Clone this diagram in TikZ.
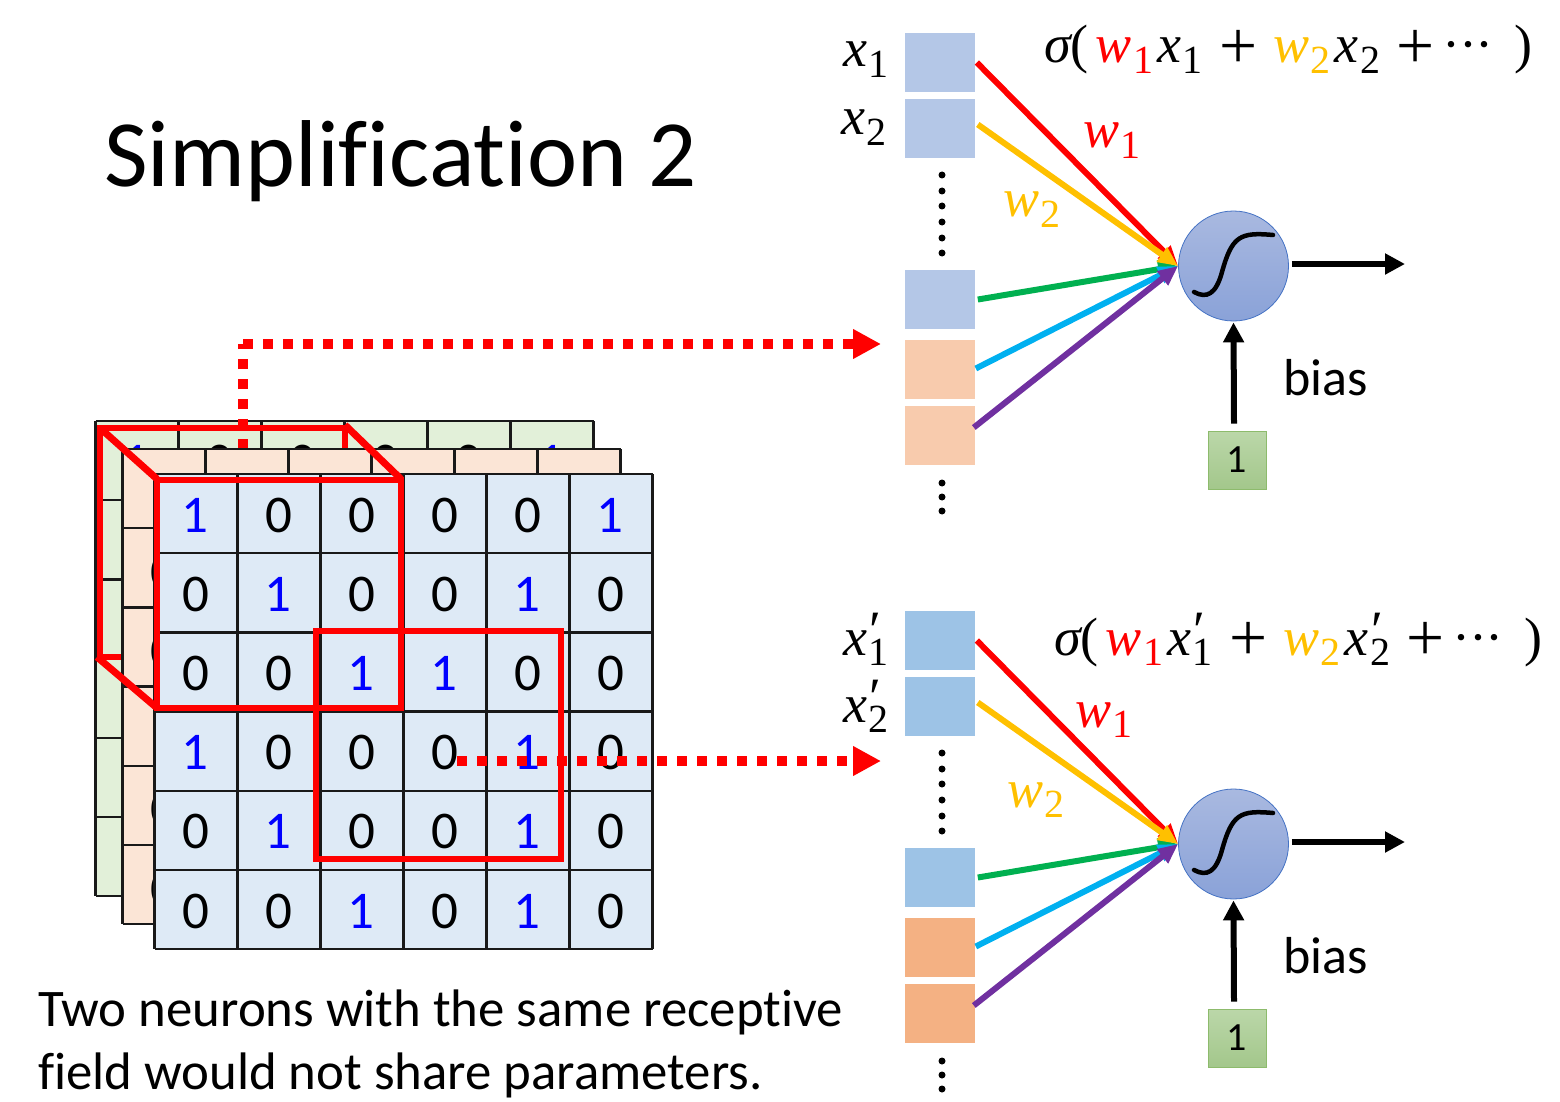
\documentclass[tikz,border=0pt]{standalone}
\usepackage{fontspec}
\setmainfont{Carlito}[Ligatures=NoCommon]
\newfontfamily\mfr{Liberation Serif}
\newfontfamily\mfs{Liberation Serif}[Scale=0.74]
\newfontfamily\mfp{Liberation Serif}[Scale=1.25]
\usetikzlibrary{arrows.meta,calc}
\definecolor{cfront}{HTML}{DEEAF6}
\definecolor{corange}{HTML}{FBE5D6}
\definecolor{cgreen}{HTML}{E2F0D9}
\definecolor{cblue}{HTML}{0000FF}
\definecolor{cw}{HTML}{FFC000}
\definecolor{cg}{HTML}{00B050}
\definecolor{cc}{HTML}{00B0F0}
\definecolor{cp}{HTML}{7030A0}
\definecolor{boxA}{HTML}{B4C7E7}
\definecolor{boxB}{HTML}{F8CBAD}
\definecolor{boxC}{HTML}{9DC3E6}
\definecolor{boxD}{HTML}{F4B183}
\definecolor{ntop}{HTML}{A9B9E0}
\definecolor{nbot}{HTML}{8AA2D8}
\definecolor{nline}{HTML}{4472C4}
\definecolor{onetop}{HTML}{BBD7A9}
\definecolor{onebot}{HTML}{A3C78B}
\definecolor{oneline}{HTML}{8DBB6C}
\newcommand{\fs}[1]{\fontsize{#1}{#1}\selectfont}
\newcommand{\vv}[2]{{\mfr\itshape #1}\kern.03em\raisebox{-.2em}{\mfs #2}}
\newcommand{\vp}[2]{{\mfr\itshape #1}\kern.03em\rlap{\raisebox{.12em}{\mfr\kern.02em ′}}\raisebox{-.2em}{\mfs #2}}
\newcommand{\sumdots}{{\mfr\kern.05em ·\kern-.03em·\kern-.03em·}}
\newcommand{\bigplus}{\raisebox{-.1em}{\mfp +}}
\tikzset{
  cellline/.style={draw=black!90,line width=2.5pt},
  digit/.style={font=\fs{53},inner sep=0pt,anchor=center},
  redbox/.style={draw=red,line width=6.5pt,line join=miter,line cap=butt},
  dotline/.style={draw=red,line width=10pt,dash pattern=on 10pt off 10pt,-{Triangle[length=28pt,width=28pt]}},
  inbox/.style={minimum width=71pt,minimum height=60pt,inner sep=0pt,draw=white,line width=0.6pt},
  wire/.style={line width=6pt,-{Triangle[length=20pt,width=17pt]}},
  blackarrow/.style={draw=black,line width=6pt,-{Triangle[length=20pt,width=20pt]}},
  mathlabel/.style={font=\fs{54},inner sep=0pt,anchor=base west},
  formula/.style={font=\fs{54},inner sep=0pt,anchor=base west},
  neuronnode/.style={circle,minimum size=110pt,inner sep=0pt,draw=nline,line width=0.8pt,top color=ntop,bottom color=nbot},
  onebox/.style={minimum size=58pt,inner sep=0pt,draw=oneline,line width=0.8pt,top color=onetop,bottom color=onebot,font=\fs{40}},
  vdot/.style={circle,fill=black,minimum size=7pt,inner sep=0pt}
}
\newcommand{\layer}[5]{% x, y, fill, name, digit y offset
  \fill[#3] (#1,#2) rectangle ++(498,475.2);
  \foreach \row [count=\r from 0] in {{1,0,0,0,0,1},{0,1,0,0,1,0},{0,0,1,1,0,0},{1,0,0,0,1,0},{0,1,0,0,1,0},{0,0,1,0,1,0}}{
    \foreach \d [count=\c from 0] in \row {
      \ifnum\d=1 \def\dc{cblue}\def\dx{0}\else\def\dc{black}\def\dx{1}\fi
      \node[digit,text=\dc] (#4-\r-\c) at ({#1+40.5+\dx+83*\c},{#2+#5+79.2*\r}) {\d};
    }
  }
  \foreach \i in {0,...,6}{
    \draw[cellline] ({#1+83*\i},#2) -- ({#1+83*\i},{#2+475.2});
    \draw[cellline] (#1,{#2+79.2*\i}) -- ({#1+498},{#2+79.2*\i});
  }
}
\newcommand{\neuronset}[4]{% prefix, y offset, top colour, bottom colour
  \begin{scope}[shift={(0,#2)}]
    \node[inbox,fill=#3] (#1a) at (940,62.5) {};
    \node[inbox,fill=#3] (#1b) at (940,128.5) {};
    \node[inbox,fill=#3] (#1c) at (940,299.5) {};
    \node[inbox,fill=#4] (#1d) at (940,369.5) {};
    \node[inbox,fill=#4] (#1e) at (940,435.5) {};
    \foreach \k [count=\q] in {175,191,206,222,238,253}{\node[vdot] (#1u\q) at (942,\k) {};}
    \foreach \k [count=\q] in {483,497,511}{\node[vdot] (#1v\q) at (942,\k) {};}
    \node[neuronnode] (#1n) at (1233.5,266) {};
    \draw[line width=4.5pt,line cap=round] (1194,292) .. controls (1207,299) and (1216,294) .. (1222,272) .. controls (1232,236) and (1240,232) .. (1273,235);
    \draw[wire,draw=red] ($(#1a.east)+(1,0)$) -- (#1n.west);
    \draw[wire,draw=cg] ($(#1c.east)+(2,0)$) -- (#1n.west);
    \draw[wire,draw=cc] ($(#1d.east)+(0,-1)$) -- (#1n.west);
    \draw[wire,draw=cw] ($(#1b.east)+(2,-4)$) -- (#1n.west);
    \draw[wire,draw=cp] ($(#1e.east)+(-2,-8)$) -- (#1n.west);
    \coordinate (#1out) at (1405,264);
    \draw[blackarrow] ($(#1n.east)+(3,-2)$) -- (#1out);
    \node[onebox] (#1one) at (1237,460) {1};
    \draw[blackarrow] ($(#1one.north)+(-3,-7)$) -- ($(#1n.south)+(0,1)$);
    \node[font=\fs{52},inner sep=0pt,anchor=base west] (#1bias) at (1283,395) {bias};
  \end{scope}
}
\begin{document}
\begin{tikzpicture}[x=1pt,y=-1pt]
\useasboundingbox (0,0) rectangle (1560,1102);
\node[font=\fs{95},inner sep=0pt,anchor=base west] (title) at (104,186) {Simplification 2};

\coordinate (dotA) at (243,449);
\coordinate (dotB) at (243,344);
\coordinate (dotC) at (881,344);
\coordinate (dotD) at (457,761);
\coordinate (dotE) at (881,761);

\layer{95.5}{421}{cgreen}{g}{41}
\draw[redbox] (100,660) -- (100,428) -- (345,428) -- (345,479);
\draw[redbox] (100,657) -- (125,657);
\draw[draw=red,line width=10pt,dash pattern=on 10pt off 10pt] (dotA) -- (dotB);
\layer{122.5}{449}{corange}{o}{44}
\layer{154.5}{474}{cfront}{f}{41}
\draw[red,line width=7pt] (100,428) -- (157,479) (345,425) -- (401,479) (97,657) -- (157,708);
\draw[redbox] (157,480) rectangle (401,708);
\draw[redbox] (316,631) rectangle (561,859);
\draw[dotline] (dotB) -- (dotC);
\draw[dotline] (dotD) -- (dotE);

\node[font=\fs{52.8},inner sep=0pt,anchor=base west] (capa) at (38,1026) {Two neurons with the same receptive};
\node[font=\fs{52.8},inner sep=0pt,anchor=base west] (capb) at (38,1089) {field would not share parameters.};

\neuronset{p}{0}{boxA}{boxB}
\neuronset{q}{578}{boxC}{boxD}

\node[mathlabel] (l1) at (843,67) {\vv{x}{1}};
\node[mathlabel] (l2) at (841,135) {\vv{x}{2}};
\node[formula] (f1) at (1044,63) {{\mfr\itshape σ}{\mfr(}\kern.13em\textcolor{red}{\vv{w}{1}}\kern.07em\vv{x}{1}\kern.3em\bigplus\kern.3em\textcolor{cw}{\vv{w}{2}}\kern.07em\vv{x}{2}\kern.3em\bigplus\kern.1em\sumdots\kern.4em{\mfr)}};
\node[mathlabel,text=red] (w1) at (1083,148) {\vv{w}{1}};
\node[mathlabel,text=cw] (w2) at (1003,217) {\vv{w}{2}};

\node[mathlabel] (m1) at (843,655) {\vp{x}{1}};
\node[mathlabel] (m2) at (843,722) {\vp{x}{2}};
\node[formula] (f2) at (1054,655) {{\mfr\itshape σ}{\mfr(}\kern.13em\textcolor{red}{\vv{w}{1}}\kern.07em\vp{x}{1}\kern.3em\bigplus\kern.3em\textcolor{cw}{\vv{w}{2}}\kern.07em\vp{x}{2}\kern.3em\bigplus\kern.1em\sumdots\kern.4em{\mfr)}};
\node[mathlabel,text=red] (v1) at (1075,727) {\vv{w}{1}};
\node[mathlabel,text=cw] (v2) at (1007,807) {\vv{w}{2}};
\end{tikzpicture}
\end{document}
